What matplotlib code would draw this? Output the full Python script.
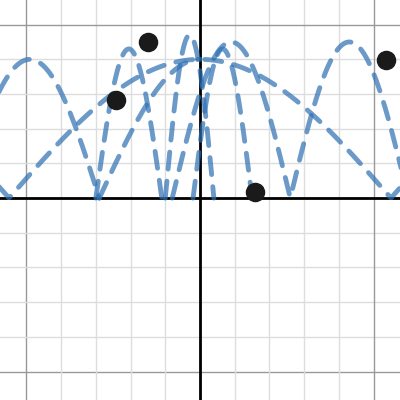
import numpy as np
import matplotlib
matplotlib.use("Agg")
import matplotlib.pyplot as plt

# curves: amplitude, zero offset, half-period, x-range
amps = [4.0, 4.0, 4.5, 4.7, 4.3, 4.3, 4.0]
offs = [5.5, 6.9, -2.6, 1.0, 3.0, 0.2, 2.9]
halfs = [11.0, 4.0, 3.4, 1.4, 1.9, 1.7, 5.8]
xmins = [-5.8, -5.8, -0.8, -1.0, -3.0, -0.2, -2.9]
xmaxs = [5.8, -2.9, 5.8, 0.4, -1.1, 1.5, 0.0]
pts_x = [-2.42, -1.5, 1.59, 5.36]
pts_y = [2.82, 4.5, 0.17, 3.98]

fig = plt.figure(figsize=(4, 4), dpi=100)
ax = fig.add_axes([0, 0, 1, 1])
ax.set_xlim(-5.76, 5.76)
ax.set_ylim(-5.82, 5.71)
for v in range(-6, 7):
    c, lw = ('#999999', 1.0) if v % 5 == 0 else ('#dddddd', 1.0)
    ax.axvline(v, color=c, lw=lw, zorder=0)
    ax.axhline(v, color=c, lw=lw, zorder=0)
ax.axvline(0, color='black', lw=2, zorder=1)
ax.axhline(0, color='black', lw=2, zorder=1)
for a, o, h, x0, x1 in zip(amps, offs, halfs, xmins, xmaxs):
    x = np.linspace(x0, x1, 400)
    y = np.abs(a * np.sin(np.pi * (x + o) / h))
    ax.plot(x, y, color='#2d70b3', alpha=0.7, lw=3.5, dashes=(3.5, 2.5),
            solid_capstyle='round', dash_capstyle='round', zorder=2)
ax.scatter(pts_x, pts_y, s=170, color='#1a1a1a', zorder=3)
ax.set_xticks([]); ax.set_yticks([])
for s in ax.spines.values():
    s.set_visible(False)
fig.savefig('out.png', dpi=100)
